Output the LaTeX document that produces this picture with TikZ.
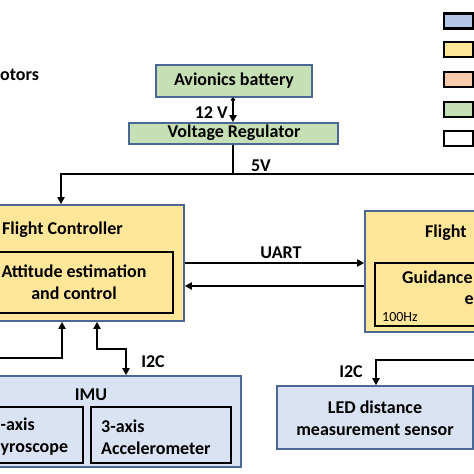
\documentclass[tikz,border=0pt]{standalone}
\usepackage{fontspec}
\setmainfont{Carlito}
\usetikzlibrary{arrows.meta}
\definecolor{bordc}{HTML}{4A6796}
\definecolor{fyel}{HTML}{FFE699}
\definecolor{fblue}{HTML}{DAE3F3}
\definecolor{lblue}{HTML}{B4C7E7}
\definecolor{fgreen}{HTML}{C5E0B4}
\definecolor{forange}{HTML}{F8CBAD}
\tikzset{
  outerbox/.style={draw=bordc, line width=1.6pt, inner sep=0pt},
  innerbox/.style={draw=black, line width=2.6pt, inner sep=0pt},
  legbox/.style={draw=black, line width=2.4pt, inner sep=0pt, minimum width=29pt, minimum height=15pt},
  conn/.style={draw=black, line width=1.8pt},
  arr/.tip={Triangle[length=7pt,width=7pt]},
  txt/.style={font=\bfseries\fontsize{18}{22}\selectfont, inner sep=0pt},
  small/.style={font=\fontsize{14}{16}\selectfont, inner sep=0pt}
}
\begin{document}
\begin{tikzpicture}[x=1pt,y=-1pt]
\useasboundingbox (0,0) rectangle (474,474);
\clip (0,0) rectangle (474,474);
\fill[white] (0,0) rectangle (474,474);
% legend
\node[legbox, fill=lblue] (leg1) at (458.5,21) {};
\node[legbox, fill=fyel] (leg2) at (458.5,49.5) {};
\node[legbox, fill=forange] (leg3) at (458.5,79.5) {};
\node[legbox, fill=fgreen] (leg4) at (458.5,109.5) {};
\node[legbox, fill=white] (leg5) at (458.5,138.5) {};
% motors label
\node[txt, anchor=west] (mot) at (0,75) {otors};
% power
\node[outerbox, fill=fgreen, minimum width=156pt, minimum height=32pt] (bat) at (234,81) {};
\node[txt] (battxt) at (234,81) {Avionics battery};
\node[outerbox, fill=fgreen, minimum width=209pt, minimum height=21pt] (reg) at (233.5,133.5) {};
\node[txt] (regtxt) at (234,133) {Voltage Regulator};
% flight controller
\node[outerbox, fill=fyel, minimum width=228pt, minimum height=116pt] (fc) at (70,263) {};
\node[txt, anchor=west] (fctxt) at (2,230) {Flight Controller};
\node[innerbox, minimum width=206pt, minimum height=61pt] (att) at (70,282.5) {};
\node[txt, align=center] (atttxt) at (74,282) {Attitude estimation\\and control};
% right flight box
\node[outerbox, fill=fyel, minimum width=215pt, minimum height=121pt] (fc2) at (472.5,271.5) {};
\node[txt, anchor=west] (fc2txt) at (425,233) {Flight};
\node[innerbox, minimum width=195pt, minimum height=63pt] (gui) at (472.5,294.5) {};
\node[txt, anchor=west] (guitxt) at (402,277) {Guidance};
\node[txt, anchor=east] (guie) at (474,300) {e};
\node[small, anchor=west] (hz) at (382,317) {100Hz};
% IMU
\node[outerbox, fill=fblue, minimum width=300pt, minimum height=91pt] (imu) at (91,421.5) {};
\node[txt] (imutxt) at (91,395) {IMU};
\node[innerbox, minimum width=113pt, minimum height=56pt] (gyro) at (26.5,435) {};
\node[txt, align=left, anchor=west] (gyrotxt) at (0.5,437) {-axis\\yroscope};
\node[innerbox, minimum width=140pt, minimum height=56pt] (acc) at (161,435) {};
\node[txt, align=left, anchor=west] (acctxt) at (101,437) {3-axis\\Accelerometer};
% LED
\node[outerbox, fill=fblue, minimum width=196pt, minimum height=63pt] (led) at (375,417.5) {};
\node[txt, align=center] (ledtxt) at (375,418) {LED distance\\measurement sensor};
% connectors
\draw[conn, {Circle[length=4pt]}-arr] (bat.south -| 233,0) -- (reg.north -| 233,0);
\coordinate (j) at (233,174);
\coordinate (jr) at (480,174);
\draw[conn] (reg.south -| 233,0) -- (j) -- (jr);
\draw[conn, -arr] (j) -| ([xshift=-9pt]fc.north);
\node[txt, anchor=east] (v12) at (228,113) {12 V};
\node[txt] (v5) at (261,166) {5V};
\draw[conn, -arr] (fc.east) -- (fc.east -| fc2.west);
\draw[conn, -arr] ([yshift=-14.5pt]fc2.west) -- ([yshift=-14.5pt]fc2.west -| fc.east);
\node[txt] (uart) at (281,253) {UART};
\coordinate (imuL) at (-5,358);
\draw[conn, -arr] (imuL) -| ([xshift=-8pt]fc.south);
\draw[conn, arr-arr] ([xshift=27pt]fc.south) -- ++(0,27) -| ([xshift=35pt]imu.north);
\node[txt] (i2ca) at (153,362) {I2C};
\coordinate (ledR) at (480,360);
\draw[conn, -arr] (ledR) -| ([xshift=1pt]led.north);
\node[txt] (i2cb) at (351,372) {I2C};
\end{tikzpicture}
\end{document}
